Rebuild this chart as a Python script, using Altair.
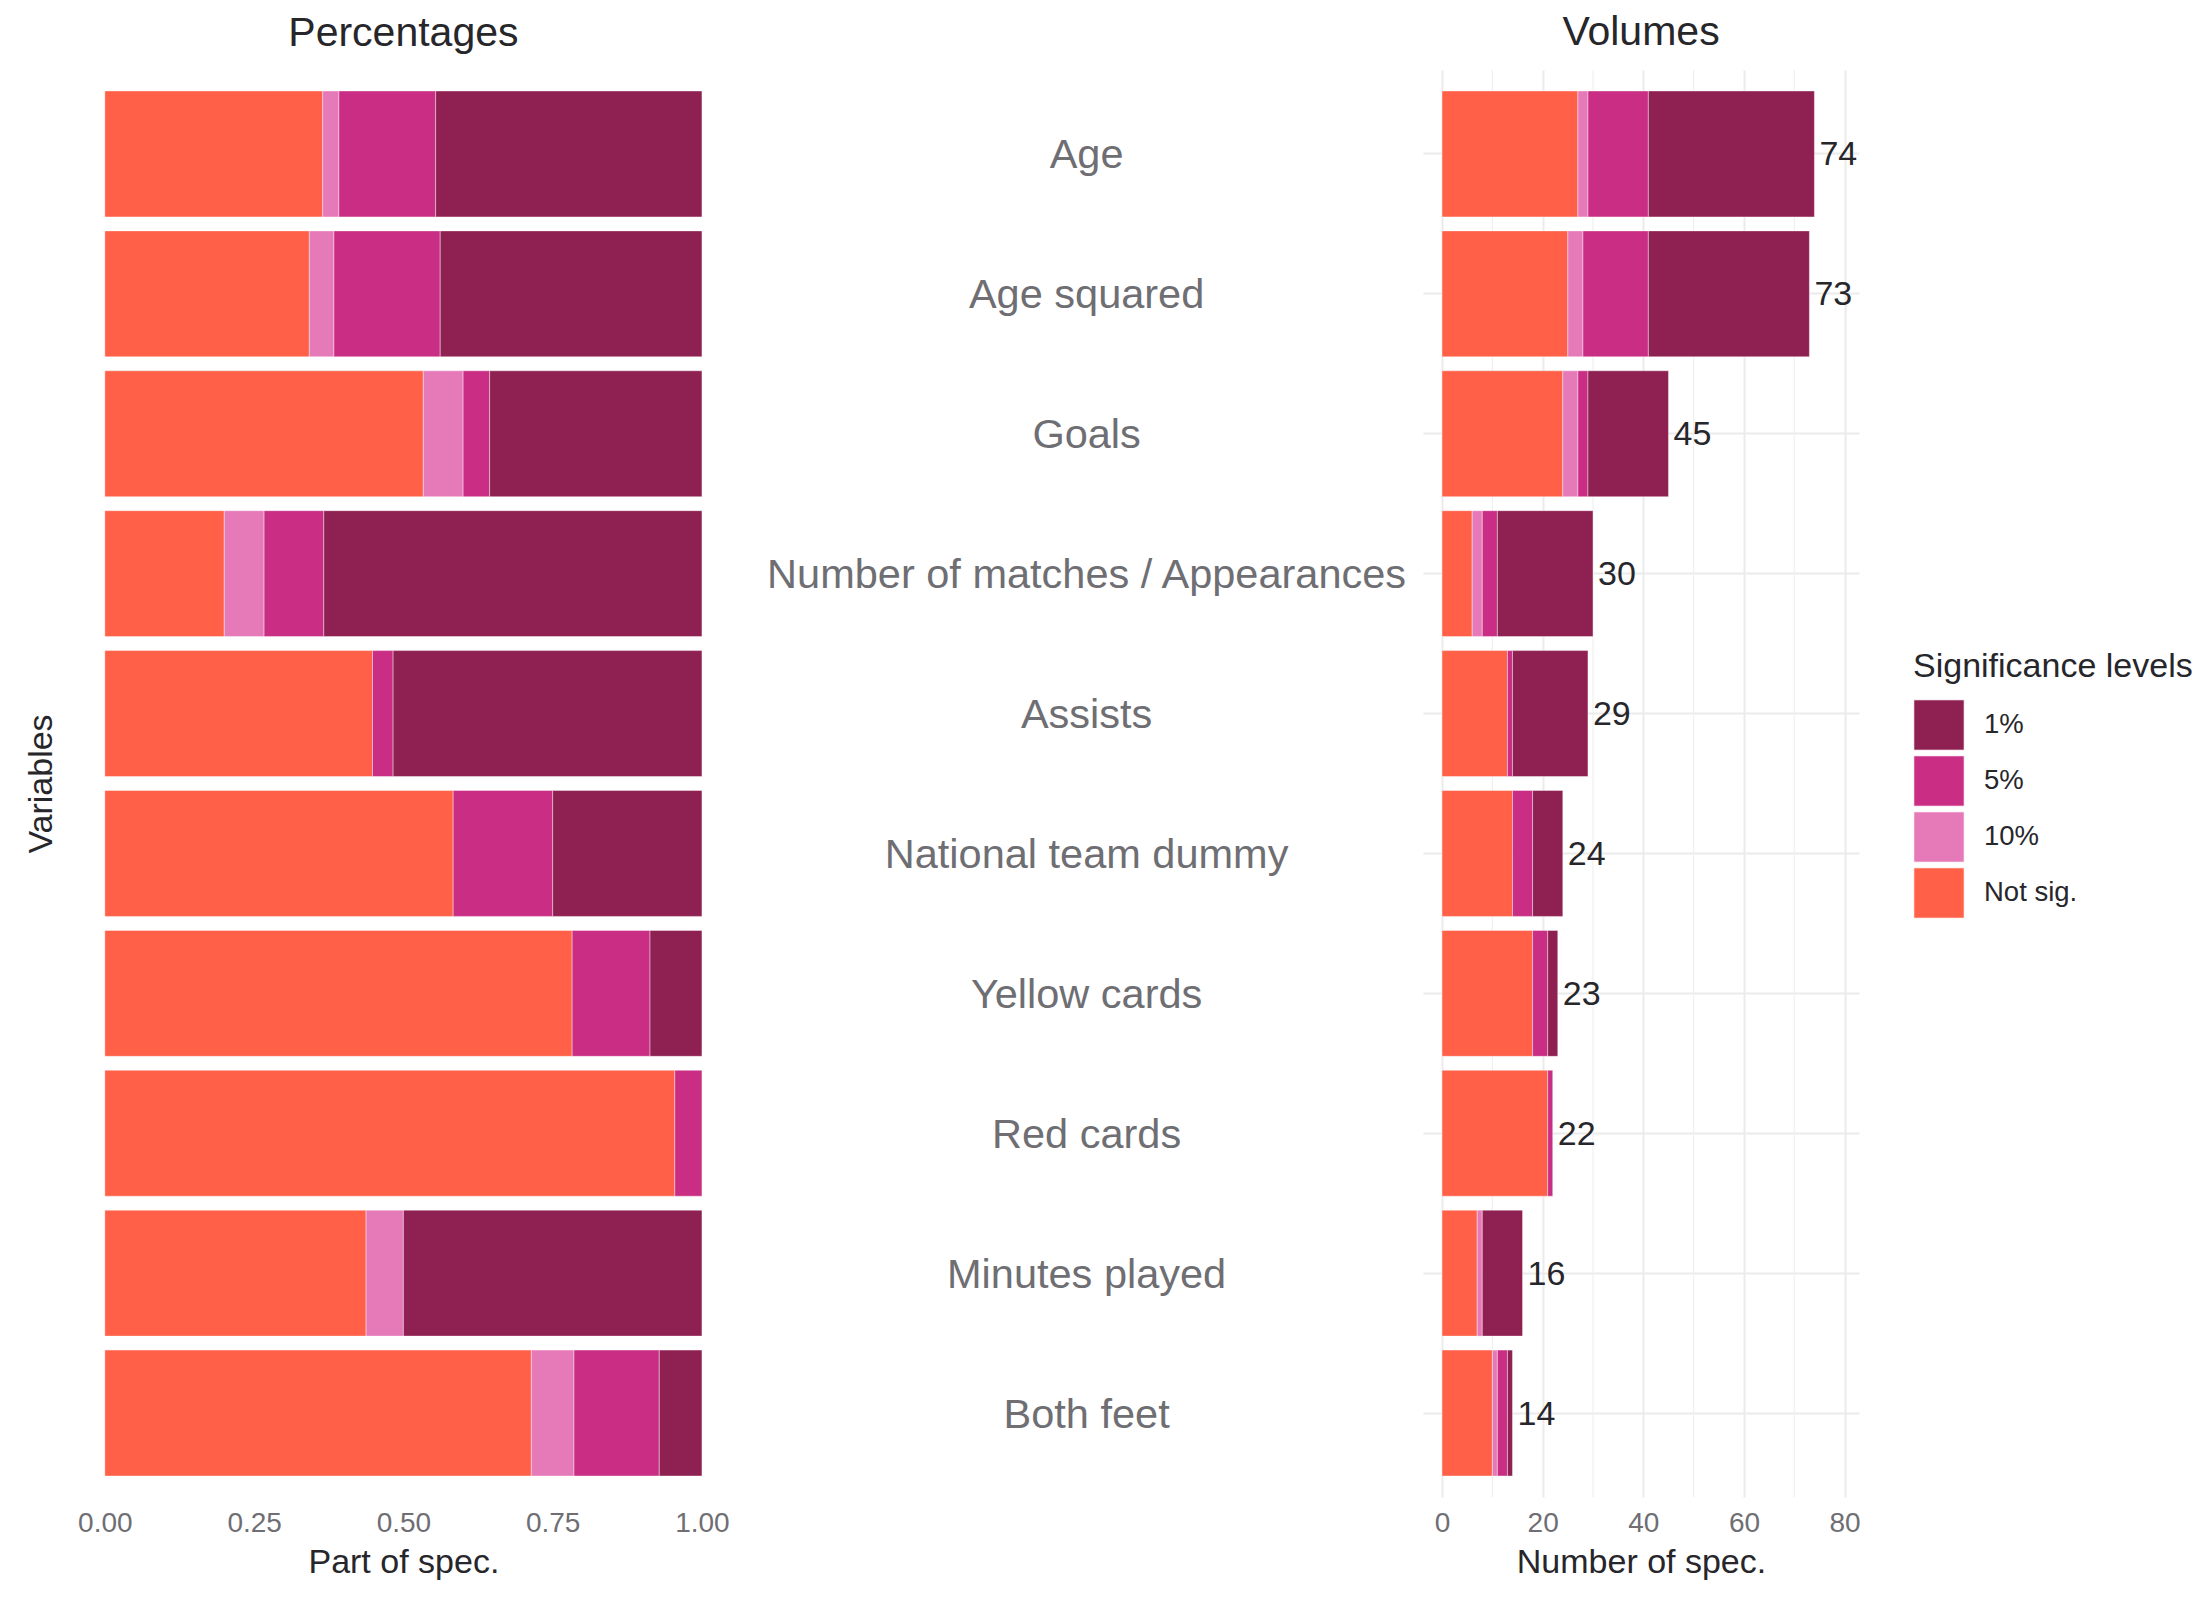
import altair as alt
import pandas as pd

categories = ["Age", "Age squared", "Goals", "Number of matches / Appearances",
              "Assists", "National team dummy", "Yellow cards", "Red cards",
              "Minutes played", "Both feet"]
not_sig = [27, 25, 24, 6, 13, 14, 18, 21, 7, 10]
sig10 = [2, 3, 3, 2, 0, 0, 0, 0, 1, 1]
sig5 = [12, 13, 2, 3, 1, 4, 3, 1, 0, 2]
sig1 = [33, 32, 16, 19, 15, 6, 2, 0, 8, 1]

levels = ["1%", "5%", "10%", "Not sig."]
level_colors = ["#8F2052", "#C92E84", "#E679B8", "#FF6047"]
stack_order = {"Not sig.": 0, "10%": 1, "5%": 2, "1%": 3}
pct_ticks = [0, 0.25, 0.5, 0.75, 1.0]
vol_ticks = [0, 20, 40, 60, 80]
vol_minor = [10, 30, 50, 70]

rows = []
for i, c in enumerate(categories):
    for lev, arr in (("Not sig.", not_sig), ("10%", sig10), ("5%", sig5), ("1%", sig1)):
        if arr[i] > 0:
            rows.append({"var": c, "level": lev, "ord": stack_order[lev], "count": arr[i]})
df = pd.DataFrame(rows)
totals = pd.DataFrame({"var": categories,
                       "total": [a + b + c + d for a, b, c, d in zip(not_sig, sig10, sig5, sig1)]})
labels_df = pd.DataFrame({"var": categories})
minor_df = pd.DataFrame({"v": vol_minor})

FONT = "Liberation Sans"
DARK = "#26262b"
GREY = "#6e6e73"
H = 1427


def band():
    return alt.Scale(type="band", paddingInner=0.1, paddingOuter=0.15)


color = alt.Color("level:N", scale=alt.Scale(domain=levels, range=level_colors),
                  legend=alt.Legend(title="Significance levels", orient="none",
                                    legendX=1838, legendY=580,
                                    symbolType="square", symbolSize=2550,
                                    symbolStrokeColor="white", symbolStrokeWidth=1,
                                    symbolOpacity=1,
                                    labelFontSize=27.5, titleFontSize=34,
                                    labelFont=FONT, titleFont=FONT,
                                    labelColor=DARK, titleColor=DARK,
                                    titleFontWeight="normal", labelOffset=19,
                                    titleLimit=500, labelLimit=300,
                                    rowPadding=0, titlePadding=15, padding=0))


def title(t):
    return alt.TitleParams(t, fontSize=41, font=FONT, color=DARK, fontWeight="normal",
                           offset=15)


left = alt.Chart(df).mark_bar(stroke="white", strokeWidth=0.8, strokeOpacity=0.5).encode(
    x=alt.X("count:Q", stack="normalize",
            scale=alt.Scale(domain=[-0.05, 1.05], nice=False, zero=False),
            axis=alt.Axis(values=pct_ticks, labelExpr="format(datum.value, '.2f')",
                          title="Part of spec.", grid=False)),
    y=alt.Y("var:N", sort=categories, scale=band(),
            axis=alt.Axis(title="Variables", labels=False, ticks=False, domain=False,
                          grid=False, titlePadding=24, titleBaseline="alphabetic")),
    color=color,
    order=alt.Order("ord:Q"),
).properties(width=656.8, height=H, title=title("Percentages"))

middle = alt.Chart(labels_df).mark_text(font=FONT, fontSize=41.5, color=GREY,
                                       align="center", baseline="middle", dy=2.5).encode(
    x=alt.value(354.6),
    y=alt.Y("var:N", sort=categories, scale=band(), axis=None, bandPosition=0.5),
    text="var:N",
).properties(width=690.3, height=H)

xscale = alt.Scale(domain=[-3.78, 82.86], nice=False, zero=False)
xaxis = alt.Axis(values=vol_ticks, title="Number of spec.", grid=True,
                 gridColor="#ebebeb", gridWidth=2)

minor = alt.Chart(minor_df).mark_rule(color="#efefef", strokeWidth=1.1).encode(
    x=alt.X("v:Q", scale=xscale, axis=xaxis))

bars = alt.Chart(df).mark_bar(stroke="white", strokeWidth=0.8, strokeOpacity=0.5).encode(
    x=alt.X("count:Q", stack="zero", scale=xscale, axis=xaxis),
    y=alt.Y("var:N", sort=categories, scale=band(),
            axis=alt.Axis(title=None, labels=False, ticks=False, domain=False,
                          grid=True, gridColor="#ebebeb", gridWidth=2)),
    color=color,
    order=alt.Order("ord:Q"),
)

tot = alt.Chart(totals).mark_text(font=FONT, fontSize=34, color=DARK, align="left",
                                  baseline="middle", dx=5, dy=1.5).encode(
    x=alt.X("total:Q", scale=xscale, axis=xaxis),
    y=alt.Y("var:N", sort=categories, scale=band()),
    text="total:Q",
)

right = alt.layer(minor, bars, tot).properties(width=436, height=H, title=title("Volumes"))

chart = alt.hconcat(left, middle, right, spacing=0, bounds="flush").properties(
    padding={"left": 24, "top": 12, "right": 10, "bottom": 5},
    background="white",
).configure_view(stroke=None).configure_axis(
    labelFont=FONT, titleFont=FONT, labelFontSize=28, titleFontSize=34,
    labelColor=GREY, titleColor=DARK, titleFontWeight="normal",
    domain=False, ticks=False, tickSize=0, labelPadding=12, titlePadding=8,
)

chart.save("out.html", embed_options={"renderer": "svg", "actions": False})
